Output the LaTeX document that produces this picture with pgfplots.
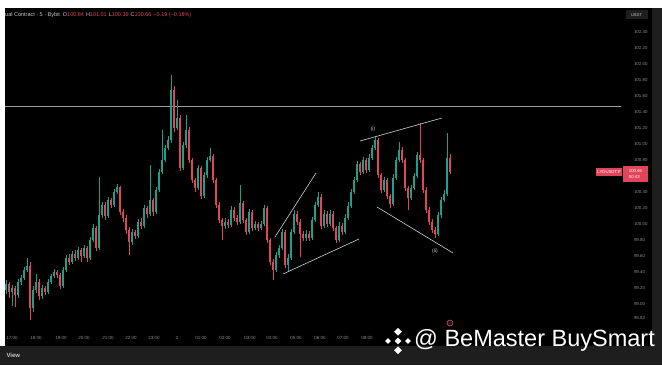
\documentclass[border=0pt]{standalone}
\usepackage{pgfplots}
\pgfplotsset{compat=1.18}
\usepackage{pgfplotstable}
\usetikzlibrary{shapes.geometric}
\usepackage{fontspec}
\setmainfont{Liberation Sans}
\definecolor{cgreen}{HTML}{1F9E89}
\definecolor{cred}{HTML}{E0455A}
\definecolor{tickgray}{HTML}{8C8C8C}
\definecolor{stripgray}{HTML}{1E1E1E}
\definecolor{hdr}{HTML}{C8C8C8}
\definecolor{tline}{HTML}{D0D0D0}

\pgfplotstableread{
x o h l c
6 99.18 99.30 99.13 99.25
9 99.25 99.28 99.08 99.15
12 99.15 99.24 98.98 99.20
15 99.20 99.23 98.96 99.11
18 99.11 99.31 99.08 99.28
21 99.28 99.36 99.24 99.33
24 99.33 99.46 99.30 99.43
27 99.43 99.58 99.40 99.48
30 99.48 99.53 98.80 98.95
33 98.95 99.22 98.90 99.18
36 99.18 99.38 99.14 99.28
39 99.28 99.31 99.05 99.10
42 99.10 99.24 99.06 99.20
45 99.20 99.23 99.11 99.15
48 99.15 99.31 99.12 99.28
51 99.28 99.38 99.25 99.35
54 99.35 99.44 99.32 99.40
57 99.40 99.43 99.33 99.36
60 99.36 99.39 99.19 99.23
63 99.23 99.46 99.20 99.43
66 99.43 99.61 99.40 99.58
69 99.58 99.62 99.49 99.53
72 99.53 99.66 99.50 99.63
75 99.63 99.67 99.54 99.58
78 99.58 99.71 99.55 99.68
81 99.68 99.70 99.53 99.60
84 99.60 99.74 99.57 99.70
87 99.70 99.72 99.52 99.58
90 99.58 99.84 99.55 99.80
93 99.80 100.00 99.77 99.95
96 99.95 99.98 99.66 99.70
99 99.70 100.59 99.67 100.11
102 100.11 100.28 100.07 100.24
105 100.24 100.27 100.05 100.10
108 100.10 100.34 100.07 100.30
111 100.30 100.33 100.20 100.24
114 100.24 100.44 100.21 100.40
117 100.40 100.50 100.37 100.46
120 100.46 100.48 100.11 100.15
123 100.15 100.19 100.03 100.08
126 100.08 100.11 99.88 99.93
129 99.93 99.96 99.61 99.78
132 99.78 99.94 99.74 99.90
135 99.90 99.93 99.81 99.85
138 99.85 100.06 99.82 100.03
141 100.03 100.07 99.94 99.98
144 99.98 100.24 99.95 100.20
147 100.20 100.23 100.08 100.13
150 100.13 100.74 100.10 100.30
153 100.30 100.33 100.10 100.15
156 100.15 100.46 100.12 100.43
159 100.43 100.69 100.40 100.65
162 100.65 101.18 100.62 100.80
165 100.80 100.99 100.77 100.95
168 100.95 101.10 100.92 101.05
171 101.05 101.86 101.01 101.68
174 101.68 101.72 101.15 101.20
177 101.20 101.55 101.17 101.33
180 101.33 101.36 100.66 100.70
183 100.70 101.03 100.67 100.99
186 100.99 101.36 100.95 101.18
189 101.18 101.21 100.76 100.80
192 100.80 100.83 100.51 100.55
195 100.55 100.58 100.40 100.45
198 100.45 100.74 100.42 100.70
201 100.70 100.73 100.31 100.35
204 100.35 100.65 100.32 100.61
207 100.61 100.84 100.58 100.80
210 100.80 100.95 100.77 100.85
213 100.85 100.88 100.51 100.55
216 100.55 100.58 100.20 100.24
219 100.24 100.27 100.01 100.05
222 100.05 100.08 99.80 99.98
225 99.98 100.07 99.94 100.03
228 100.03 100.06 99.95 99.99
231 99.99 100.22 99.96 100.18
234 100.18 100.21 100.04 100.08
237 100.08 100.11 99.99 100.03
240 100.03 100.49 100.00 100.26
243 100.26 100.29 100.01 100.05
246 100.05 100.08 99.86 99.90
249 99.90 100.19 99.87 100.15
252 100.15 100.18 99.91 99.95
255 99.95 100.04 99.92 100.00
258 100.00 100.03 99.91 99.95
261 99.95 100.04 99.92 100.00
264 100.00 100.24 99.97 100.20
267 100.20 100.23 99.76 99.80
270 99.80 99.83 99.49 99.53
273 99.53 99.56 99.30 99.43
276 99.43 99.65 99.40 99.61
279 99.61 99.74 99.58 99.70
282 99.70 99.94 99.67 99.90
285 99.90 99.93 99.45 99.49
288 99.49 99.62 99.40 99.58
291 99.58 99.94 99.55 99.90
294 99.90 100.17 99.87 100.13
297 100.13 100.16 99.99 100.03
300 100.03 100.06 99.59 99.88
303 99.88 99.91 99.79 99.83
306 99.83 99.92 99.79 99.88
309 99.88 99.91 99.79 99.83
312 99.83 100.09 99.80 100.05
315 100.05 100.28 100.02 100.24
318 100.24 100.40 100.21 100.34
321 100.34 100.37 99.94 99.98
324 99.98 100.17 99.95 100.13
327 100.13 100.16 99.96 100.00
330 100.00 100.17 99.97 100.13
333 100.13 100.16 99.91 99.95
336 99.95 99.98 99.76 99.80
339 99.80 100.02 99.77 99.98
342 99.98 100.01 99.86 99.90
345 99.90 100.12 99.87 100.08
348 100.08 100.27 100.05 100.23
351 100.23 100.44 100.20 100.40
354 100.40 100.59 100.37 100.55
357 100.55 100.79 100.52 100.75
360 100.75 100.78 100.61 100.65
363 100.65 100.84 100.62 100.80
366 100.80 100.83 100.64 100.68
369 100.68 100.87 100.65 100.83
372 100.83 100.99 100.80 100.95
375 100.95 101.09 100.92 101.05
378 101.05 101.08 100.57 100.61
381 100.61 100.64 100.39 100.43
384 100.43 100.59 100.40 100.55
387 100.55 100.58 100.31 100.35
390 100.35 100.38 100.20 100.25
393 100.25 100.62 100.22 100.58
396 100.58 100.84 100.55 100.80
399 100.80 101.03 100.77 100.93
402 100.93 100.96 100.76 100.80
405 100.80 100.83 100.41 100.45
408 100.45 100.48 100.18 100.33
411 100.33 100.49 100.30 100.45
414 100.45 100.64 100.42 100.60
417 100.60 100.90 100.57 100.86
420 100.86 101.26 100.76 100.80
423 100.80 100.83 100.39 100.43
426 100.43 100.46 100.14 100.18
429 100.18 100.21 99.99 100.03
432 100.03 100.06 99.89 99.93
435 99.93 99.96 99.83 99.88
438 99.88 100.15 99.85 100.11
441 100.11 100.34 100.08 100.30
444 100.30 100.42 100.27 100.38
447 100.38 101.14 100.35 100.83
450 100.83 100.87 100.63 100.65
}\candles

\begin{document}
\begin{tikzpicture}
\begin{axis}[
  set layers,
  scale only axis, width=662pt, height=365pt,
  xmin=0, xmax=662, ymin=98.2375, ymax=102.8,
  axis line style={draw=none},
  axis background/.style={fill=black},
  tick style={draw=none},
  xtick={12,36,61,84,108,131,154,177,201,225,250,272,296,320,343,367},
  xticklabels={17:00,18:00,19:00,20:00,21:00,22:00,23:00,2,01:00,02:00,03:00,04:00,05:00,06:00,07:00,08:00},
  xticklabel style={font=\fontsize{4.5}{5}\selectfont, text=tickgray, yshift=32.5pt},
  ytick={98.82,99,99.2,99.4,99.6,99.8,100,100.2,100.4,100.8,101,101.2,101.4,101.6,101.8,102,102.2,102.4},
  yticklabels={98.82,99.00,99.20,99.40,99.60,99.80,100.00,100.20,100.40,100.80,101.00,101.20,101.40,101.60,101.80,102.00,102.20,102.40},
  yticklabel pos=right,
  yticklabel style={font=\fontsize{4.4}{5}\selectfont, text=tickgray, anchor=west, xshift=-31.5pt},
]
% frame strips
\fill[white] (axis cs:0,102.7) rectangle (axis cs:662,102.8);
\fill[white] (axis cs:0,98.2375) rectangle (axis cs:5,102.8);
\fill[stripgray] (axis cs:652,98.2375) rectangle (axis cs:662,102.7);
\fill[stripgray] (axis cs:0,98.2375) rectangle (axis cs:662,98.475);

% horizontal level
\draw[gray!75, line width=0.7pt] (axis cs:5,101.475) -- (axis cs:621,101.475);

% wicks
\addplot[draw=none, mark=none, error bars/.cd, y dir=both, y explicit, error mark=none,
  error bar style={draw=cgreen, solid, line width=0.6pt}]
  table[x=x, y expr={\thisrow{c}>\thisrow{o} ? (\thisrow{h}+\thisrow{l})/2 : 0}, y error expr={(\thisrow{h}-\thisrow{l})/2}] {\candles};
\addplot[draw=none, mark=none, error bars/.cd, y dir=both, y explicit, error mark=none,
  error bar style={draw=cred, solid, line width=0.6pt}]
  table[x=x, y expr={\thisrow{c}<\thisrow{o} ? (\thisrow{h}+\thisrow{l})/2 : 0}, y error expr={(\thisrow{h}-\thisrow{l})/2}] {\candles};
% bodies
\addplot[draw=none, mark=none, error bars/.cd, y dir=both, y explicit, error mark=none,
  error bar style={draw=cgreen, solid, line width=2.5pt}]
  table[x=x, y expr={\thisrow{c}>\thisrow{o} ? (\thisrow{o}+\thisrow{c})/2 : 0}, y error expr={abs(\thisrow{c}-\thisrow{o})/2}] {\candles};
\addplot[draw=none, mark=none, error bars/.cd, y dir=both, y explicit, error mark=none,
  error bar style={draw=cred, solid, line width=2.5pt}]
  table[x=x, y expr={\thisrow{c}<\thisrow{o} ? (\thisrow{o}+\thisrow{c})/2 : 0}, y error expr={abs(\thisrow{c}-\thisrow{o})/2}] {\candles};

% trend lines
\draw[tline, line width=0.6pt] (axis cs:360,101.0375) -- (axis cs:442,101.325);
\draw[tline, line width=0.6pt] (axis cs:377,100.2125) -- (axis cs:453,99.6375);
\draw[tline, line width=0.6pt] (axis cs:275,99.8375) -- (axis cs:316,100.6375);
\draw[tline, line width=0.6pt] (axis cs:283,99.375) -- (axis cs:359,99.8125);
\node[text=tline, font=\fontsize{5}{5}\selectfont] at (axis cs:373,101.1875) {(i)};
\node[text=tline, font=\fontsize{5}{5}\selectfont] at (axis cs:435,99.6625) {(ii)};

% header
\node[anchor=west, font=\fontsize{5.5}{5.5}\selectfont, inner sep=0pt] at (axis cs:5,102.6125)
  {\color{hdr}ual Contract · 5 · Bybit\hspace{3pt}O\color{cred}100.84\hspace{2pt}\color{hdr}H\color{cred}101.01\hspace{2pt}\color{hdr}L\color{cred}100.36\hspace{2pt}\color{hdr}C\color{cred}100.66\hspace{2pt}−0.19 (−0.18\%)};
\node[fill=stripgray, text=hdr, font=\fontsize{4}{4}\selectfont, minimum width=22pt, minimum height=9pt, inner sep=0pt] at (axis cs:636.5,102.6125) {USDT};

% price labels
\node[fill=cred, text=white, font=\fontsize{4.3}{4.8}\selectfont, anchor=east, minimum height=8pt, inner sep=1pt] at (axis cs:622,100.656) {LYDUSDT.P};
\node[fill=cred, text=white, font=\fontsize{4.3}{5.2}\selectfont, align=left, minimum width=25pt, minimum height=16pt, inner sep=1pt] at (axis cs:635.5,100.625) {100.65\\00:43};

% icon
\draw[cred, fill=stripgray, line width=0.6pt] (axis cs:450,98.7625) circle[radius=3pt];

% bottom strip text
\node[anchor=west, text=hdr, font=\bfseries\fontsize{6}{6}\selectfont] at (axis cs:3,98.36) {View};

% watermark
\node[diamond, fill=white, minimum size=7pt, inner sep=0pt] at (axis cs:398,98.5375) {};
\node[diamond, fill=white, minimum size=8pt, inner sep=0pt] at (axis cs:398,98.6525) {};
\node[diamond, fill=white, minimum size=8pt, inner sep=0pt] at (axis cs:398,98.4225) {};
\node[diamond, fill=white, minimum size=6pt, inner sep=0pt] at (axis cs:388,98.5375) {};
\node[diamond, fill=white, minimum size=6pt, inner sep=0pt] at (axis cs:408,98.5375) {};
\node[anchor=west, text=white, font=\fontsize{23.5}{24}\selectfont, inner sep=0pt] at (axis cs:414,98.54) {@ BeMaster BuySmart};
\end{axis}
\end{tikzpicture}
\end{document}
